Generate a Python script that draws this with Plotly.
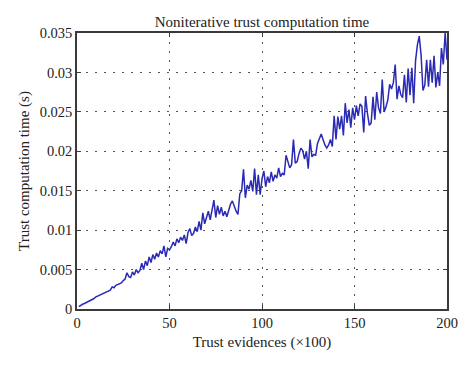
import plotly.graph_objects as go

x_values = list(range(1, 201))
time_values = [
    0.0003, 0.0005, 0.0006, 0.0007, 0.0008, 0.0009, 0.0010, 0.0012, 0.0013, 0.0015,
    0.0016, 0.0017, 0.0018, 0.0019, 0.0021, 0.0022, 0.0022, 0.0024, 0.0028, 0.0027,
    0.0030, 0.0031, 0.0032, 0.0033, 0.0036, 0.0038, 0.0046, 0.0041, 0.0040, 0.0047,
    0.0043, 0.0050, 0.0046, 0.0049, 0.0058, 0.0050, 0.0061, 0.0055, 0.0066, 0.0059,
    0.0069, 0.0063, 0.0071, 0.0066, 0.0074, 0.0070, 0.0080, 0.0066, 0.0077, 0.0075,
    0.0079, 0.0085, 0.0080, 0.0089, 0.0084, 0.0091, 0.0087, 0.0094, 0.0083, 0.0097,
    0.0102, 0.0093, 0.0096, 0.0104, 0.0098, 0.0111, 0.0100, 0.0122, 0.0108, 0.0118,
    0.0124, 0.0113, 0.0127, 0.0138, 0.0116, 0.0131, 0.0120, 0.0129, 0.0118, 0.0124,
    0.0117, 0.0125, 0.0133, 0.0137, 0.0129, 0.0124, 0.0120, 0.0146, 0.0150, 0.0177,
    0.0141, 0.0157, 0.0152, 0.0163, 0.0149, 0.0178, 0.0145, 0.0170, 0.0145, 0.0165,
    0.0175, 0.0155, 0.0168, 0.0160, 0.0174, 0.0162, 0.0170, 0.0166, 0.0179, 0.0168,
    0.0172, 0.0170, 0.0195, 0.0188, 0.0179, 0.0183, 0.0215, 0.0185, 0.0187, 0.0197,
    0.0204, 0.0201, 0.0190, 0.0200, 0.0178, 0.0215, 0.0193, 0.0196, 0.0195, 0.0210,
    0.0217, 0.0222, 0.0215, 0.0208, 0.0204, 0.0208, 0.0215, 0.0206, 0.0245, 0.0215,
    0.0244, 0.0228, 0.0245, 0.0220, 0.0261, 0.0236, 0.0253, 0.0230, 0.0255, 0.0240,
    0.0258, 0.0245, 0.0260, 0.0257, 0.0224, 0.0270, 0.0248, 0.0233, 0.0236, 0.0269,
    0.0240, 0.0275, 0.0255, 0.0248, 0.0291, 0.0250, 0.0256, 0.0265, 0.0285, 0.0279,
    0.0287, 0.0310, 0.0266, 0.0283, 0.0272, 0.0268, 0.0297, 0.0262, 0.0305, 0.0271,
    0.0306, 0.0261, 0.0315, 0.0335, 0.0346, 0.0322, 0.0277, 0.0284, 0.0316, 0.0282,
    0.0316, 0.0287, 0.0321, 0.0281, 0.0300, 0.0283, 0.0331, 0.0310, 0.0350, 0.0316,
]

title_text = "Noniterative trust computation time"
x_title = "Trust evidences (×100)"
y_title = "Trust computation time (s)"

serif = "Liberation Serif, Times New Roman, serif"

fig = go.Figure()
fig.add_trace(go.Scatter(
    x=x_values, y=time_values, mode="lines",
    line=dict(color="#2a2ab4", width=1.5),
    showlegend=False,
))

axis_common = dict(
    showline=True, linecolor="#3a3a3a", linewidth=1.5, mirror="ticks",
    ticks="inside", ticklen=4, tickcolor="#3a3a3a",
    showgrid=True, gridcolor="#555555", gridwidth=1, griddash="1.5px,7.5px",
    zeroline=False,
    tickfont=dict(family=serif, size=14.5, color="#222222"),
)

# page body has an 8px default margin, so the figure is sized/offset to compensate
fig.update_layout(
    width=466, height=360,
    paper_bgcolor="white", plot_bgcolor="white",
    margin=dict(l=69, r=27, t=25, b=59),
    title=dict(text=title_text, x=0.5, xanchor="center", xref="paper",
               y=1 - 14 / 360, yanchor="middle",
               font=dict(family=serif, size=15, color="#222222")),
    xaxis=dict(range=[0, 200], tick0=0, dtick=50,
               title=dict(text=x_title, standoff=6,
                          font=dict(family=serif, size=15, color="#222222")),
               **axis_common),
    yaxis=dict(range=[0, 0.035], tick0=0, dtick=0.005,
               title=dict(text=y_title, standoff=6,
                          font=dict(family=serif, size=15, color="#222222")),
               **axis_common),
)

fig.write_html("out.html")
